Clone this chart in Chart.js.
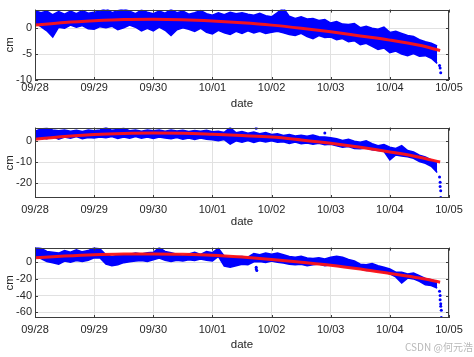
<!DOCTYPE html>
<html><head><meta charset="utf-8">
<script src="https://cdn.jsdelivr.net/npm/chart.js@4.4.0/dist/chart.umd.min.js"></script>
<style>
html,body{margin:0;padding:0;background:#fff;width:474px;height:357px;overflow:hidden;}
canvas{position:absolute;left:0;}
#wm{position:absolute;left:405px;top:339px;font:10px "Noto Sans CJK SC",sans-serif;color:#b8b8b8;white-space:nowrap;}
</style></head><body>
<canvas id="c1" width="474" height="118" style="top:0px"></canvas>
<canvas id="c2" width="474" height="120" style="top:118px"></canvas>
<canvas id="c3" width="474" height="119" style="top:238px"></canvas>
<div id="wm">CSDN @何元浩</div>
<script>
// ---- tick labels ----
const xTickLabels = ['09/28','09/29','09/30','10/01','10/02','10/03','10/04','10/05'];
const xTickDays = [0,1,2,3,4,5,6,7];
const yTicks1 = [-10,-5,0];
const yTicks2 = [-20,-10,0];
const yTicks3 = [-60,-40,-20,0];

// ---- sample times (days since 09/28) for the observed band ----
const sampleDays = [0.0,0.1,0.2,0.3,0.4,0.5,0.6,0.7,0.8,0.9,
  1.0,1.1,1.2,1.3,1.4,1.5,1.6,1.7,1.8,1.9,
  2.0,2.1,2.2,2.3,2.4,2.5,2.6,2.7,2.8,2.9,
  3.0,3.1,3.2,3.3,3.4,3.5,3.6,3.7,3.8,3.9,
  4.0,4.1,4.2,4.3,4.4,4.5,4.6,4.7,4.8,4.9,
  5.0,5.1,5.2,5.3,5.4,5.5,5.6,5.7,5.8,5.9,
  6.0,6.1,6.2,6.3,6.4,6.5,6.6,6.7,6.8];
// ---- fit-curve times ----
const fitDays = [0,0.5,1,1.5,2,2.5,3,3.5,4,4.5,5,5.5,6,6.5,6.85];

// ---- panel 1 (cm) ----
const upper1 = [3.4,3.0,3.3,2.6,3.2,2.7,3.3,2.8,3.4,2.9,
  3.1,3.3,3.9,3.0,3.4,3.8,3.3,2.8,3.5,3.1,
  2.8,3.3,2.9,3.6,3.0,3.3,2.7,3.0,3.4,2.8,
  2.5,3.0,2.6,3.1,2.8,3.0,2.7,2.5,2.9,2.4,
  2.2,3.0,3.9,2.3,1.9,2.2,1.8,1.9,1.5,1.7,
  1.0,1.3,0.8,0.7,0.9,0.1,0.4,0.0,-0.2,0.2,
  -0.8,-0.6,-1.0,-1.4,-1.6,-2.2,-2.6,-2.9,-3.4];
const lower1 = [1.0,0.3,-0.5,-1.7,0.2,0.0,0.6,0.2,0.5,-0.1,
  -0.2,0.3,0.1,0.4,-0.3,0.1,0.6,0.2,-0.5,0.0,
  -0.5,0.2,-0.4,-1.4,-0.3,0.1,-0.2,-0.6,0.0,-0.8,
  -1.1,-0.4,-0.9,-1.2,-0.6,-1.0,-0.5,-0.9,-0.6,-1.0,
  -0.8,-0.6,-0.9,-1.2,-1.4,-1.0,-1.6,-2.0,-1.4,-1.8,
  -1.7,-2.2,-2.0,-2.6,-2.4,-3.2,-2.9,-3.5,-4.1,-3.8,
  -4.7,-4.4,-5.0,-5.3,-4.9,-5.4,-5.3,-5.8,-6.8];
const fit1 = [0.6,1.1,1.45,1.7,1.75,1.65,1.4,1.05,0.6,0.0,-0.7,-1.5,-2.3,-3.3,-4.3];
const outDays1 = [6.84,6.85,6.86];
const outVals1 = [-7.2,-7.7,-8.6];

// ---- panel 2 (cm) ----
const upper2 = [4.7,5.8,6.2,5.4,5.0,5.4,4.8,5.2,4.7,5.3,
  5.0,5.4,6.5,5.2,5.6,6.2,5.0,5.4,4.8,5.3,
  5.0,5.4,4.8,5.4,4.9,5.2,4.7,5.1,4.8,5.2,
  4.5,4.8,4.2,6.5,4.0,4.6,3.8,4.4,3.6,4.2,
  3.2,3.6,2.8,3.2,2.5,2.9,2.4,3.0,2.2,2.0,
  1.7,1.2,0.4,0.9,0.0,-0.5,0.2,-1.2,-2.1,-1.6,
  -2.8,-3.4,-2.1,-4.4,-5.1,-6.6,-7.5,-8.9,-10.4];
const lower2 = [0.9,1.8,1.2,2.2,1.0,2.0,1.4,2.2,1.2,1.8,
  1.5,2.0,1.7,2.2,1.3,2.0,1.5,2.3,1.4,2.0,
  1.3,2.0,1.5,1.2,1.8,1.0,1.5,0.9,1.6,1.0,
  0.7,0.2,0.8,-1.4,0.2,-0.5,0.4,-0.6,0.2,-0.4,
  0.2,-0.5,-0.2,-1.0,-0.4,-1.2,-0.8,-1.4,-1.0,-1.6,
  -1.4,-2.2,-2.9,-2.5,-3.4,-3.6,-3.2,-4.0,-4.4,-4.8,
  -8.9,-6.5,-7.0,-7.4,-8.1,-9.6,-10.5,-11.9,-14.9];
const fit2 = [0.9,2.3,3.2,3.7,3.9,3.8,3.3,2.7,2.0,0.6,-1.0,-2.9,-5.1,-7.6,-9.9];
const outDays2 = [3.74,4.90,6.84,6.85,6.85,6.86,6.86];
const outVals2 = [6.2,3.9,-17,-19.5,-21.5,-23.5,-26.8];

// ---- panel 3 (cm) ----
const upper3 = [18,17,13,12,11,14,12,15,12.5,14,
  17.5,16,9,7,8.5,9,9.5,11,10,11.5,
  12,17.5,13,11.5,9.5,7.5,10,12,9.5,13,
  11.5,16.8,7.3,5.5,6.5,7.0,6.0,10.5,9,11,
  9.5,11,9,7,6,7.3,5,4.5,5.3,4.0,
  6.0,7.3,6.0,3.4,1.5,-2.3,-3.0,-1.5,-4.2,-6.0,
  -8,-12,-12,-14,-13,-16,-19.5,-21,-23];
const lower3 = [6,4.5,1.0,-0.5,-2.3,1.5,0.0,2.0,1.0,2.5,
  5.3,5.0,-2.3,-4.2,-3.0,-0.5,0.5,1.5,2.0,1.0,
  3.0,5.0,2.5,1.0,2.5,1.5,3.0,2.0,4.0,2.5,
  1.5,7.0,-4.5,-6.0,-4.2,-2.3,-3.0,0.5,1.0,-0.4,
  1.5,0.0,-1.0,-2.3,-3.0,-2.5,-4.2,-3.0,-2.0,-4.2,
  -3.0,-4.5,-5.5,-6.1,-6.5,-8.0,-10.0,-9.5,-11.0,-12.0,
  -13.8,-17.6,-25,-19,-20,-23,-27,-28,-31];
const fit3 = [5.3,7.4,9.0,9.8,10.0,9.5,8.4,6.2,3.4,0.0,-3.6,-8.2,-13.5,-19.0,-24.0];
const outDays3 = [3.74,3.74,3.75,6.84,6.85,6.85,6.86,6.86,6.87,6.87];
const outVals3 = [-6,-8,-10,-35,-40,-45,-50,-53,-57.7,-66.5];

// ---- helpers ----
const FONT = '"Liberation Sans", Arial, Helvetica, sans-serif';
Chart.defaults.font.family = FONT;
function xy(xs, ys){ return xs.map((x,i)=>({x:x, y:ys[i]})); }

const boxPlugin = {
  id:'matlabBox',
  afterDatasetsDraw(chart){
    const {ctx, chartArea:a, scales} = chart;
    ctx.save();
    ctx.strokeStyle = '#3c3c3c';
    ctx.lineWidth = 1;
    ctx.strokeRect(Math.round(a.left)+0.5, Math.round(a.top)+0.5, Math.round(a.right-a.left)-1, Math.round(a.bottom-a.top)-1);
    ctx.beginPath();
    scales.x.ticks.forEach(t=>{
      const px = Math.round(scales.x.getPixelForValue(t.value))+0.5;
      ctx.moveTo(px, a.bottom); ctx.lineTo(px, a.bottom-3);
      ctx.moveTo(px, a.top); ctx.lineTo(px, a.top+3);
    });
    scales.y.ticks.forEach(t=>{
      const py = Math.round(scales.y.getPixelForValue(t.value))+0.5;
      ctx.moveTo(a.left, py); ctx.lineTo(a.left+3, py);
      ctx.moveTo(a.right, py); ctx.lineTo(a.right-3, py);
    });
    ctx.stroke();
    ctx.restore();
  }
};

function makePanel(id, o){
  new Chart(document.getElementById(id), {
    type:'line',
    data:{ datasets:[
      { data: xy(fitDays, o.fit), borderColor:'rgba(255,20,20,0.95)', borderWidth:3,
        pointRadius:0, cubicInterpolationMode:'monotone', fill:false, order:0 },
      { data: xy(sampleDays, o.upper), borderColor:'#0000ff', backgroundColor:'#0000ff',
        borderWidth:1.5, pointRadius:0, tension:0, fill:'+1', order:3 },
      { data: xy(sampleDays, o.lower), borderColor:'#0000ff', borderWidth:1.5,
        pointRadius:0, tension:0, fill:false, order:3 },
      { data: xy(o.outX, o.outY), showLine:false, pointRadius:1.5, pointBorderWidth:0,
        pointBackgroundColor:'#0000ff', borderColor:'#0000ff', order:1 }
    ]},
    options:{
      responsive:false, animation:false, devicePixelRatio:1,
      layout:{ padding:{ top:o.padTop, right:25, left:0, bottom:0 } },
      plugins:{ legend:{display:false}, tooltip:{enabled:false} },
      scales:{
        x:{ type:'linear', min:0, max:7,
          afterFit(s){ s.height = o.xAxisH; },
          afterBuildTicks(s){ s.ticks = xTickDays.map(v=>({value:v})); },
          ticks:{ autoSkip:false, maxRotation:0, padding:o.labelPad, color:'#262626',
            font:{size:11}, callback:(v)=>xTickLabels[Math.round(v)] },
          grid:{ color:'#e1e1e1', drawTicks:false },
          border:{ display:false },
          title:{ display:true, text:'date', color:'#262626', font:{size:11.5},
            padding:{top:0, bottom:o.titlePad} }
        },
        y:{ type:'linear', min:o.yMin, max:o.yMax,
          afterFit(s){ s.width = 35; },
          afterBuildTicks(s){ s.ticks = o.yTicks.map(v=>({value:v})); },
          ticks:{ padding:3, color:'#262626', font:{size:11} },
          grid:{ color:'#e1e1e1', drawTicks:false },
          border:{ display:false },
          title:{ display:true, text:'cm', color:'#262626', font:{size:11.5},
            padding:{top:3.4, bottom:0} }
        }
      }
    },
    plugins:[boxPlugin]
  });
}

makePanel('c1', { upper:upper1, lower:lower1, fit:fit1, outX:outDays1, outY:outVals1,
  yMin:-10, yMax:3.6, yTicks:yTicks1, padTop:4, xAxisH:38, labelPad:1.5, titlePad:7 });
makePanel('c2', { upper:upper2, lower:lower2, fit:fit2, outX:outDays2, outY:outVals2,
  yMin:-27, yMax:6.5, yTicks:yTicks2, padTop:6, xAxisH:40, labelPad:5, titlePad:9 });
makePanel('c3', { upper:upper3, lower:lower3, fit:fit3, outX:outDays3, outY:outVals3,
  yMin:-67, yMax:17.6, yTicks:yTicks3, padTop:6, xAxisH:39, labelPad:5.4, titlePad:5 });
</script>
</body></html>
